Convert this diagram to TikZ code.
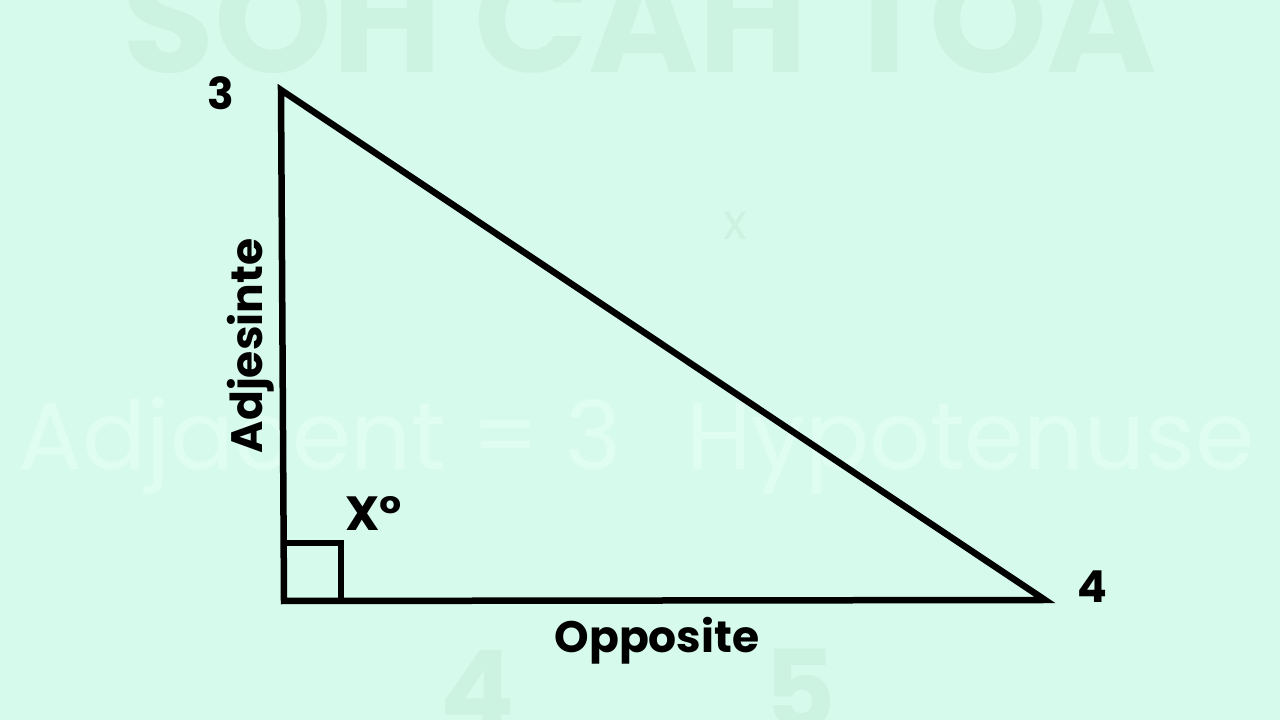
\documentclass[tikz,border=0pt]{standalone}
\usepackage{fontspec}
\newfontfamily\pop{Poppins}
\definecolor{bgmint}{HTML}{D6FBEC}
\definecolor{ghost}{HTML}{CCF2E2}
\definecolor{ghostlight}{HTML}{E0FDF2}
\tikzset{
  lbl/.style={font=\pop\bfseries\fontsize{44}{46}\selectfont, inner sep=0pt, text=black},
  ghosttext/.style={font=\pop\bfseries, inner sep=0pt, text=ghost},
  side/.style={line width=6.5pt, line join=miter, draw=black},
}
\begin{document}
\begin{tikzpicture}[x=1pt,y=1pt]
\fill[bgmint] (0,0) rectangle (1280,720);
\useasboundingbox (0,0) rectangle (1280,720);
% faint background texts
\node[ghosttext, font=\pop\bfseries\fontsize{150}{150}\selectfont, anchor=base] (g1) at (640,647) {SOH CAH TOA};
\node[ghosttext, font=\pop\fontsize{95}{95}\selectfont, anchor=base, text=ghostlight] (g2) at (320,250) {Adjacent = 3};
\node[ghosttext, font=\pop\fontsize{95}{95}\selectfont, anchor=base, text=ghostlight] (g3) at (970,250) {Hypotenuse};
\node[ghosttext, font=\pop\fontsize{50}{50}\selectfont, anchor=base] (g4) at (735,480) {x};
\node[ghosttext, font=\pop\bfseries\fontsize{110}{110}\selectfont, anchor=base] (g5) at (478,-10) {4};
\node[ghosttext, font=\pop\bfseries\fontsize{110}{110}\selectfont, anchor=base] (g6) at (800,-10) {5};
% triangle
\coordinate (T) at (281,630);
\coordinate (B) at (284,119);
\coordinate (R) at (1045,120);
\draw[side] (T) -- (B) -- (R) -- cycle;
\coordinate (s1) at (284,177);
\coordinate (s2) at (341,177);
\coordinate (s3) at (341,119);
\draw[line width=5.5pt, line join=miter] (s1) -- (s2) -- (s3);
% labels
\node[lbl, anchor=base] (n3) at (221,610) {3};
\node[lbl, anchor=base] (n4) at (1092,117) {4};
\node[lbl, anchor=base] (opp) at (657,67) {Opposite};
\node[lbl, anchor=base, rotate=90] (adj) at (262,374) {Adjesinte};
\node[lbl, anchor=base west, font=\pop\bfseries\fontsize{48}{50}\selectfont] (xdeg) at (345,189) {X°};
\end{tikzpicture}
\end{document}
